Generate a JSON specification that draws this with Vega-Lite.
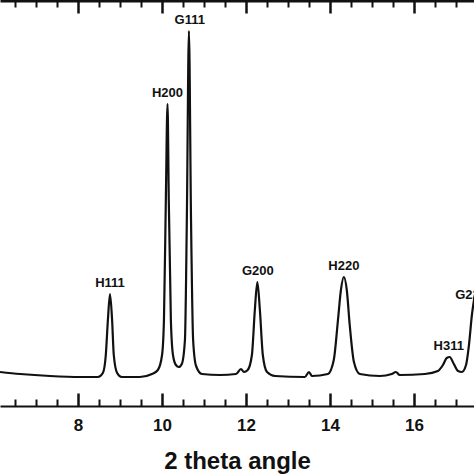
{
  "$schema": "https://vega.github.io/schema/vega-lite/v6.json",
  "width": 474,
  "height": 406,
  "padding": {"left": 0, "top": 0, "right": 0, "bottom": 68},
  "autosize": {"type": "none"},
  "background": "white",
  "config": {"view": {"stroke": null}},
  "datasets": {
    "xrd": [
      {"x": 6.14, "y": 34}, {"x": 6.62, "y": 32}, {"x": 7.33, "y": 30}, {"x": 8.05, "y": 29},
      {"x": 8.47, "y": 29}, {"x": 8.59, "y": 33}, {"x": 8.66, "y": 51}, {"x": 8.71, "y": 86},
      {"x": 8.76, "y": 112}, {"x": 8.81, "y": 86}, {"x": 8.85, "y": 51}, {"x": 8.93, "y": 33},
      {"x": 9.04, "y": 29}, {"x": 9.47, "y": 29}, {"x": 9.76, "y": 32}, {"x": 9.90, "y": 36},
      {"x": 10.0, "y": 51}, {"x": 10.045, "y": 86}, {"x": 10.09, "y": 206}, {"x": 10.13, "y": 302},
      {"x": 10.16, "y": 206}, {"x": 10.21, "y": 86}, {"x": 10.26, "y": 51}, {"x": 10.33, "y": 41},
      {"x": 10.40, "y": 39}, {"x": 10.47, "y": 42}, {"x": 10.545, "y": 66}, {"x": 10.59, "y": 186},
      {"x": 10.64, "y": 375}, {"x": 10.69, "y": 186}, {"x": 10.74, "y": 66}, {"x": 10.81, "y": 40},
      {"x": 10.95, "y": 32}, {"x": 11.38, "y": 31}, {"x": 11.76, "y": 32}, {"x": 11.88, "y": 37},
      {"x": 11.95, "y": 34}, {"x": 12.04, "y": 36}, {"x": 12.14, "y": 51}, {"x": 12.21, "y": 96},
      {"x": 12.27, "y": 124}, {"x": 12.33, "y": 96}, {"x": 12.40, "y": 51}, {"x": 12.50, "y": 34},
      {"x": 12.69, "y": 30}, {"x": 13.40, "y": 29}, {"x": 13.50, "y": 34}, {"x": 13.57, "y": 30},
      {"x": 13.95, "y": 32}, {"x": 14.09, "y": 46}, {"x": 14.19, "y": 86}, {"x": 14.26, "y": 116},
      {"x": 14.33, "y": 129}, {"x": 14.40, "y": 116}, {"x": 14.47, "y": 81}, {"x": 14.57, "y": 44},
      {"x": 14.71, "y": 32}, {"x": 15.19, "y": 30}, {"x": 15.47, "y": 32}, {"x": 15.57, "y": 34},
      {"x": 15.66, "y": 31}, {"x": 16.26, "y": 32}, {"x": 16.57, "y": 35}, {"x": 16.69, "y": 41},
      {"x": 16.78, "y": 48}, {"x": 16.85, "y": 49}, {"x": 16.95, "y": 42}, {"x": 17.05, "y": 35},
      {"x": 17.14, "y": 34}, {"x": 17.24, "y": 41}, {"x": 17.31, "y": 61}, {"x": 17.38, "y": 91},
      {"x": 17.43, "y": 106}, {"x": 17.52, "y": 126}
    ],
    "peaks": [
      {"label": "H111", "x": 8.76, "y": 112},
      {"label": "H200", "x": 10.13, "y": 302},
      {"label": "G111", "x": 10.66, "y": 375},
      {"label": "G200", "x": 12.28, "y": 124},
      {"label": "H220", "x": 14.33, "y": 129},
      {"label": "H311", "x": 16.83, "y": 49},
      {"label": "G220", "x": 17.36, "y": 100}
    ]
  },
  "layer": [
    {
      "data": {"name": "xrd"},
      "mark": {"type": "line", "color": "#111111", "strokeWidth": 2.2, "clip": true, "interpolate": "monotone"},
      "encoding": {
        "x": {
          "field": "x", "type": "quantitative",
          "scale": {"domain": [6.14, 17.43], "nice": false, "zero": false},
          "axis": {
            "orient": "bottom",
            "title": "2 theta angle",
            "titleFont": "Liberation Sans", "titleFontSize": 24, "titleFontWeight": "bold", "titleColor": "#111111",
            "titlePadding": 16,
            "values": [8, 10, 12, 14, 16],
            "labelFont": "Liberation Sans", "labelFontSize": 17, "labelFontWeight": "bold", "labelColor": "#111111",
            "labelPadding": 24,
            "labelOverlap": false,
            "labelFlush": false,
            "grid": false,
            "domainColor": "#111111", "domainWidth": 2,
            "tickColor": "#111111", "tickSize": -13, "tickWidth": 2.5
          }
        },
        "y": {"field": "y", "type": "quantitative", "scale": {"domain": [0, 406], "nice": false}, "axis": null}
      }
    },
    {
      "data": {"name": "peaks"},
      "mark": {"type": "text", "font": "Liberation Sans", "fontSize": 13, "fontWeight": "bold", "color": "#111111", "baseline": "middle", "dy": -11},
      "encoding": {
        "x": {
          "field": "x", "type": "quantitative",
          "axis": {
            "orient": "top", "title": null, "values": [8, 10, 12, 14, 16],
            "labels": false, "grid": false,
            "domainColor": "#111111", "domainWidth": 4,
            "tickColor": "#111111", "tickSize": -13, "tickWidth": 2.5
          }
        },
        "y": {"field": "y", "type": "quantitative"},
        "text": {"field": "label"}
      }
    },
    {
      "data": {"name": "peaks"},
      "mark": {"type": "text", "opacity": 0},
      "encoding": {
        "x": {
          "field": "x", "type": "quantitative",
          "axis": {
            "orient": "bottom", "title": null,
            "values": [6.5, 7, 7.5, 8.5, 9, 9.5, 10.5, 11, 11.5, 12.5, 13, 13.5, 14.5, 15, 15.5, 16.5, 17],
            "labels": false, "grid": false, "domain": false,
            "tickColor": "#111111", "tickSize": -7, "tickWidth": 2
          }
        },
        "y": {"field": "y", "type": "quantitative"},
        "text": {"field": "label"}
      }
    },
    {
      "data": {"name": "peaks"},
      "mark": {"type": "text", "opacity": 0},
      "encoding": {
        "x": {
          "field": "x", "type": "quantitative",
          "axis": {
            "orient": "top", "title": null,
            "values": [6.5, 7, 7.5, 8.5, 9, 9.5, 10.5, 11, 11.5, 12.5, 13, 13.5, 14.5, 15, 15.5, 16.5, 17],
            "labels": false, "grid": false, "domain": false,
            "tickColor": "#111111", "tickSize": -7, "tickWidth": 2
          }
        },
        "y": {"field": "y", "type": "quantitative"},
        "text": {"field": "label"}
      }
    }
  ],
  "resolve": {"axis": {"x": "independent"}}
}
